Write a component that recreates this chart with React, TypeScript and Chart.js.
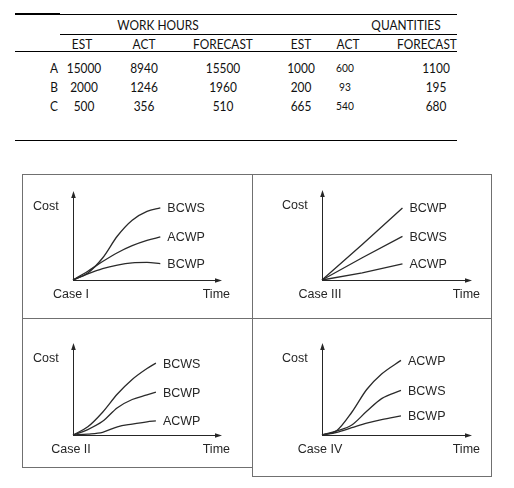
import { useEffect, useRef } from 'react';
import { Chart, registerables, type Plugin } from 'chart.js';

Chart.register(...registerables);

// ---- table data ----
const rowNames = ['A', 'B', 'C'];
const hoursEst = ['15000', '2000', '500'];
const hoursAct = ['8940', '1246', '356'];
const hoursForecast = ['15500', '1960', '510'];
const qtyEst = ['1000', '200', '665'];
const qtyAct = ['600', '93', '540'];
const qtyForecast = ['1100', '195', '680'];

// ---- curve data (time / cost in schematic units, axes run 0..10) ----
const caseITime = [0, 1, 2, 3, 4, 5, 5.9];
const caseIBcws = [0, 0.8, 2.5, 5.0, 6.8, 7.8, 8.2];
const caseIAcwp = [0, 1.0, 2.1, 3.1, 3.9, 4.5, 4.9];
const caseIBcwp = [0, 0.7, 1.3, 1.7, 1.95, 2.0, 1.85];

const caseIIITime = [0, 2.7, 5.4];
const caseIIIBcwp = [0, 4.0, 8.1];
const caseIIIBcws = [0, 2.5, 4.9];
const caseIIIAcwp = [0, 0.8, 1.8];

const caseIITime = [0, 1, 2, 3, 4, 5, 5.6];
const caseIIBcws = [0, 0.9, 2.5, 4.5, 6.1, 7.3, 7.9];
const caseIIBcwp = [0, 0.6, 1.5, 3.0, 3.9, 4.4, 4.7];
const caseIIAcwp = [0, 0.1, 0.3, 0.9, 1.2, 1.45, 1.55];

const caseIVTime = [0, 1, 2, 3, 4, 5.3];
const caseIVAcwp = [0, 0.5, 2.5, 5.0, 6.7, 8.2];
const caseIVBcws = [0, 0.45, 1.1, 2.6, 4.0, 4.9];
const caseIVBcwp = [0, 0.3, 0.8, 1.3, 1.7, 2.1];

const INK = '#262626';
const CHART_FONT = '12.5px "Liberation Sans", Arial, sans-serif';

type DecorCfg = { name: string };

// axes with arrowheads, axis words and curve names at the end of each line
const caseDecor: Plugin<'line'> = {
  id: 'caseDecor',
  afterDatasetsDraw(chart) {
    const cfg = (chart.options.plugins as Record<string, DecorCfg | undefined>).caseDecor;
    if (!cfg) return;
    const { ctx, chartArea } = chart;
    const { left, top, right, bottom } = chartArea;
    ctx.save();
    ctx.strokeStyle = INK;
    ctx.fillStyle = INK;
    ctx.lineWidth = 1;
    ctx.beginPath();
    ctx.moveTo(left + 0.5, bottom);
    ctx.lineTo(left + 0.5, top + 3);
    ctx.moveTo(left, bottom + 0.5);
    ctx.lineTo(right - 3, bottom + 0.5);
    ctx.stroke();
    ctx.beginPath();
    ctx.moveTo(left + 0.5, top - 1);
    ctx.lineTo(left - 1.8, top + 6);
    ctx.lineTo(left + 2.8, top + 6);
    ctx.closePath();
    ctx.fill();
    ctx.beginPath();
    ctx.moveTo(right + 1, bottom + 0.5);
    ctx.lineTo(right - 6, bottom - 1.8);
    ctx.lineTo(right - 6, bottom + 2.8);
    ctx.closePath();
    ctx.fill();

    ctx.font = CHART_FONT;
    ctx.textBaseline = 'middle';
    ctx.textAlign = 'left';
    ctx.fillText('Cost', left - 40, top + 15);
    ctx.textAlign = 'center';
    ctx.fillText(cfg.name, left - 2, bottom + 15);
    ctx.textAlign = 'right';
    ctx.fillText('Time', right + 9, bottom + 15);
    ctx.textAlign = 'left';
    chart.data.datasets.forEach((ds, i) => {
      const pts = chart.getDatasetMeta(i).data;
      const last = pts[pts.length - 1];
      if (last) ctx.fillText(String(ds.label), last.x + 7, last.y + 1);
    });
    ctx.restore();
  },
};

interface Series {
  label: string;
  values: number[];
}

interface PanelProps {
  left: number;
  top: number;
  width: number;
  height: number;
  pad: { left: number; top: number; right: number; bottom: number };
  time: number[];
  series: Series[];
  name: string;
  straight?: boolean;
}

function CasePanel({ left, top, width, height, pad, time, series, name, straight }: PanelProps) {
  const canvasRef = useRef<HTMLCanvasElement>(null);

  useEffect(() => {
    const canvas = canvasRef.current;
    if (!canvas) return;
    const chart = new Chart(canvas, {
      type: 'line',
      data: {
        datasets: series.map((s) => ({
          label: s.label,
          data: time.map((t, i) => ({ x: t, y: s.values[i] })),
          borderColor: '#2a2a2a',
          borderWidth: 1.3,
          pointRadius: 0,
          tension: straight ? 0 : 0.4,
          cubicInterpolationMode: straight ? 'default' : 'monotone',
          clip: false,
        })),
      },
      options: {
        responsive: false,
        animation: false,
        layout: { padding: pad },
        scales: {
          x: { type: 'linear', min: 0, max: 10, display: false },
          y: { type: 'linear', min: 0, max: 10, display: false },
        },
        plugins: {
          legend: { display: false },
          tooltip: { enabled: false },
          caseDecor: { name },
        } as Chart<'line'>['options']['plugins'],
      },
      plugins: [caseDecor],
    });
    return () => chart.destroy();
    // eslint-disable-next-line react-hooks/exhaustive-deps
  }, []);

  return (
    <canvas
      ref={canvasRef}
      width={width}
      height={height}
      style={{ position: 'absolute', left, top, width, height }}
    />
  );
}

// table text: a tall face squeezed sideways, like the narrow font of the scan
function Txt({ x, y, children, size = 14 }: { x: number; y: number; children: string; size?: number }) {
  return (
    <span
      style={{
        position: 'absolute',
        left: x,
        top: y,
        transform: 'translate(-50%, -50%) scaleX(0.85)',
        whiteSpace: 'nowrap',
        fontSize: size,
        lineHeight: 1,
      }}
    >
      {children}
    </span>
  );
}

function Rule({ x, y, w, h, color = '#000' }: { x: number; y: number; w: number; h: number; color?: string }) {
  return <div style={{ position: 'absolute', left: x, top: y, width: w, height: h, background: color }} />;
}

const colX = [82, 144, 223, 301, 345, 436];
const headX = [82, 144, 223, 301, 348, 427];
const headers = ['EST', 'ACT', 'FORECAST', 'EST', 'ACT', 'FORECAST'];
const rowY = [68, 87, 106];

export default function App() {
  const cols = [hoursEst, hoursAct, hoursForecast, qtyEst, qtyAct, qtyForecast];
  const frame = '#707070';
  return (
    <div
      style={{
        position: 'absolute',
        left: 0,
        top: 0,
        width: 514,
        height: 488,
        background: '#fff',
        fontFamily: 'Lato, "Open Sans", sans-serif',
        color: '#111',
        overflow: 'hidden',
      }}
    >
      {/* table rules */}
      <Rule x={15} y={13} w={45} h={2} />
      <Rule x={60} y={14} w={397} h={1} />
      <Rule x={60} y={34} w={397} h={1} />
      <Rule x={15} y={51} w={442} h={1} />
      <Rule x={15} y={140} w={442} h={1} />

      <Txt x={158} y={25}>WORK HOURS</Txt>
      <Txt x={406} y={25}>QUANTITIES</Txt>
      {headers.map((h, i) => (
        <Txt key={'h' + i} x={headX[i]} y={44}>
          {h}
        </Txt>
      ))}
      {rowNames.map((r, ri) => (
        <Txt key={'r' + ri} x={54} y={rowY[ri]}>
          {r}
        </Txt>
      ))}
      {cols.map((col, ci) =>
        col.map((v, ri) => (
          <Txt key={ci + '-' + ri} x={colX[ci] + (ci === 0 ? 2 : 0)} y={rowY[ri]} size={ci === 4 ? 12 : 14}>
            {v}
          </Txt>
        )),
      )}

      {/* quadrant frame */}
      <Rule x={22} y={174} w={470} h={1} color={frame} />
      <Rule x={22} y={318} w={470} h={1} color={frame} />
      <Rule x={22} y={174} w={1} h={294} color={frame} />
      <Rule x={252} y={174} w={1} h={303} color={frame} />
      <Rule x={491} y={174} w={1} h={303} color={frame} />
      <Rule x={22} y={467} w={231} h={1} color={frame} />
      <Rule x={252} y={476} w={240} h={1} color={frame} />

      <CasePanel
        left={23}
        top={175}
        width={229}
        height={143}
        pad={{ left: 50, top: 17, right: 31, bottom: 38 }}
        time={caseITime}
        series={[
          { label: 'BCWS', values: caseIBcws },
          { label: 'ACWP', values: caseIAcwp },
          { label: 'BCWP', values: caseIBcwp },
        ]}
        name="Case I"
      />
      <CasePanel
        left={253}
        top={175}
        width={238}
        height={143}
        pad={{ left: 69, top: 16, right: 20, bottom: 38 }}
        time={caseIIITime}
        series={[
          { label: 'BCWP', values: caseIIIBcwp },
          { label: 'BCWS', values: caseIIIBcws },
          { label: 'ACWP', values: caseIIIAcwp },
        ]}
        name="Case III"
        straight
      />
      <CasePanel
        left={23}
        top={319}
        width={229}
        height={148}
        pad={{ left: 50, top: 25, right: 31, bottom: 32 }}
        time={caseIITime}
        series={[
          { label: 'BCWS', values: caseIIBcws },
          { label: 'BCWP', values: caseIIBcwp },
          { label: 'ACWP', values: caseIIAcwp },
        ]}
        name="Case II"
      />
      <CasePanel
        left={253}
        top={319}
        width={238}
        height={157}
        pad={{ left: 69, top: 25, right: 20, bottom: 41 }}
        time={caseIVTime}
        series={[
          { label: 'ACWP', values: caseIVAcwp },
          { label: 'BCWS', values: caseIVBcws },
          { label: 'BCWP', values: caseIVBcwp },
        ]}
        name="Case IV"
      />
    </div>
  );
}
